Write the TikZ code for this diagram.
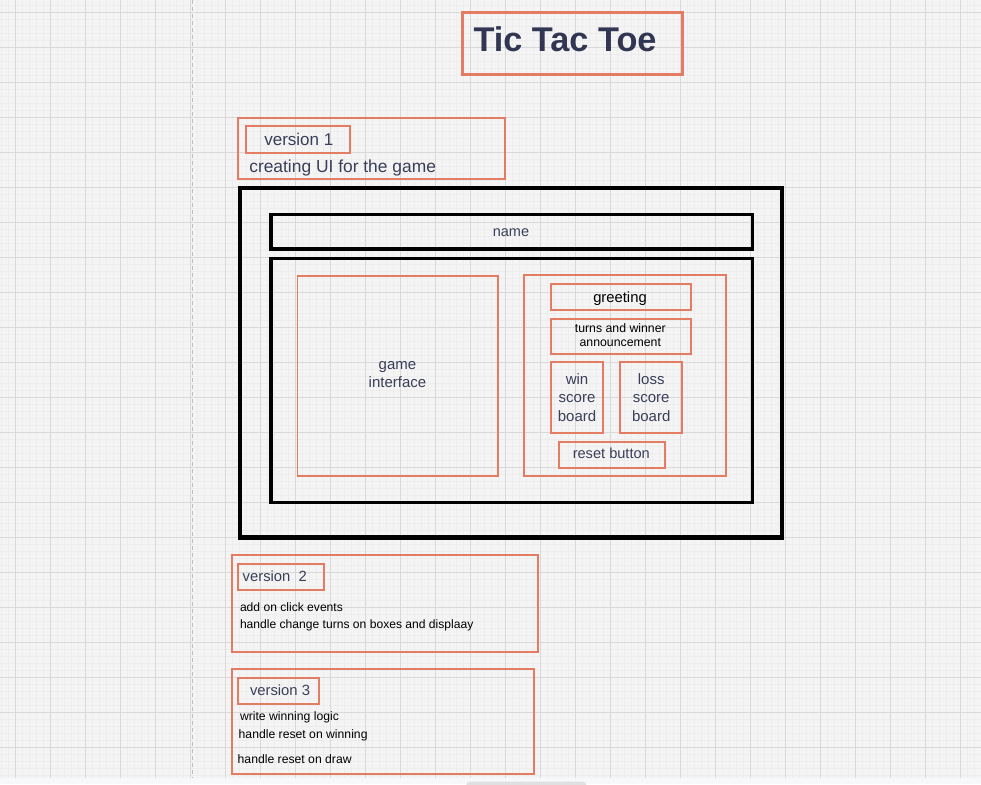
\documentclass[tikz,border=0pt]{standalone}
\usepackage{fontspec}
\setmainfont{Liberation Sans}
\definecolor{salm}{RGB}{228,124,100}
\definecolor{txt}{RGB}{58,62,88}
\definecolor{ttl}{RGB}{50,54,82}
\definecolor{bgc}{RGB}{244,244,244}
\definecolor{minorc}{RGB}{237,237,237}
\definecolor{majorc}{RGB}{217,217,217}
\definecolor{stripc}{RGB}{247,248,249}
\definecolor{barc}{RGB}{224,224,224}
\definecolor{dashc}{RGB}{190,190,190}
\tikzset{
  rbox/.style={draw=salm, line width=1.7pt, inner sep=0pt, outer sep=0pt},
  kbox/.style={draw=black, line width=3.5pt, inner sep=0pt, outer sep=0pt},
  lbl/.style={inner sep=0pt, outer sep=0pt, anchor=base, font=\fontsize{15}{18}\selectfont, text=txt},
  lline/.style={inner sep=0pt, outer sep=0pt, anchor=base west, text=black},
}
\begin{document}
\begin{tikzpicture}[x=1pt,y=-1pt]
\useasboundingbox (0,0) rectangle (981,784);
\clip (0,0) rectangle (981,784);
% background grid
\fill[bgc] (0,0) rectangle (981,777.7);
\foreach \i in {0,...,140} \draw[minorc, line width=0.8pt] (1.7+7*\i,0) -- (1.7+7*\i,777.7);
\foreach \j in {0,...,110} \draw[minorc, line width=0.8pt] (0,5.3+7*\j) -- (981,5.3+7*\j);
\foreach \i in {0,...,27} \draw[majorc, line width=1pt] (15.7+35*\i,0) -- (15.7+35*\i,777.7);
\foreach \j in {0,...,22} \draw[majorc, line width=1pt] (0,12.3+35*\j) -- (981,12.3+35*\j);
\fill[stripc] (0,777.7) rectangle (981,784);
\fill[barc, rounded corners=4pt] (466,781.7) rectangle (586.7,792);
\draw[dashc, line width=1pt, dash pattern=on 4pt off 3pt] (192.3,0) -- (192.3,777.7);

% title
\node[rbox, line width=3pt, minimum width=220pt, minimum height=61.3pt] (title) at (572.7,43.35) {};
\node[inner sep=0pt, anchor=base, text=ttl, font=\bfseries\fontsize{34.3}{40}\selectfont] (titletext) at (565,51.7) {Tic Tac Toe};

% version 1
\node[rbox, minimum width=267.3pt, minimum height=61.6pt] (v1) at (371.35,148.5) {};
\node[rbox, line width=2pt, minimum width=104.3pt, minimum height=26.7pt] (v1lab) at (297.85,139.65) {};
\node[lbl, font=\fontsize{17}{20}\selectfont] (v1text) at (298.8,145.7) {version 1};
\node[lbl, anchor=base west, font=\fontsize{17.4}{20}\selectfont] (v1desc) at (249.3,172.3) {creating UI for the game};

% UI frame
\node[kbox, line width=4.5pt, minimum width=542pt, minimum height=349.5pt] (frame) at (511,362.75) {};
\node[kbox, minimum width=481.3pt, minimum height=34.7pt] (namebox) at (511.65,231.65) {};
\node[lbl, font=\fontsize{14.5}{17}\selectfont] (nametext) at (511,236) {name};
\node[kbox, minimum width=481.3pt, minimum height=244.4pt] (inner) at (511.65,380.5) {};

\node[rbox, minimum width=200.5pt, minimum height=200pt] (game) at (397.75,376) {};
\node[lbl, align=center, anchor=center] (gametext) at (397.5,375) {game\\interface};

\node[rbox, line width=1.8pt, minimum width=202.2pt, minimum height=201pt] (panel) at (625.1,375.5) {};
\node[rbox, line width=2pt, minimum width=140.3pt, minimum height=26pt] (greet) at (620.85,297) {};
\node[lbl, text=black, font=\fontsize{14.8}{17}\selectfont] (greettext) at (620,302.3) {greeting};
\node[rbox, line width=2pt, minimum width=140.3pt, minimum height=34.7pt] (turns) at (620.85,336.35) {};
\node[lbl, text=black, font=\fontsize{12.3}{14}\selectfont] (turnstext1) at (620.3,332.7) {turns and winner};
\node[lbl, text=black, font=\fontsize{12.3}{14}\selectfont] (turnstext2) at (620.3,346.7) {announcement};
\node[rbox, line width=2pt, minimum width=52.6pt, minimum height=71pt] (win) at (577,397.8) {};
\node[lbl, align=center, anchor=center, font=\fontsize{15}{18.3}\selectfont] (wintext) at (577,397.5) {win\\score\\board};
\node[rbox, line width=2pt, minimum width=62pt, minimum height=71pt] (loss) at (651.3,397.8) {};
\node[lbl, align=center, anchor=center, font=\fontsize{15}{18.3}\selectfont] (losstext) at (651.2,397.5) {loss\\score\\board};
\node[rbox, line width=2pt, minimum width=105.7pt, minimum height=26.6pt] (reset) at (612.15,455) {};
\node[lbl, font=\fontsize{14.6}{17}\selectfont] (resettext) at (611.3,458.3) {reset button};

% version 2
\node[rbox, minimum width=306.6pt, minimum height=96.4pt] (v2) at (385,603.5) {};
\node[rbox, line width=2pt, minimum width=85.7pt, minimum height=26.3pt] (v2lab) at (280.85,577.15) {};
\node[lbl, anchor=base west, font=\fontsize{14.8}{17}\selectfont] (v2text) at (242.7,581.7) {version\ \ 2};
\node[lline, font=\fontsize{12.1}{14}\selectfont] (v2a) at (240,611.7) {add on click events};
\node[lline, font=\fontsize{12.1}{14}\selectfont] (v2b) at (240,628.5) {handle change turns on boxes and displaay};

% version 3
\node[rbox, minimum width=302.3pt, minimum height=105pt] (v3) at (382.85,721.8) {};
\node[rbox, line width=2pt, minimum width=81.3pt, minimum height=25.7pt] (v3lab) at (278.65,691.15) {};
\node[lbl, anchor=base west, font=\fontsize{14.8}{17}\selectfont] (v3text) at (250,695) {version 3};
\node[lline, font=\fontsize{12.2}{14}\selectfont] (v3a) at (240,720.7) {write winning logic};
\node[lline, font=\fontsize{12.2}{14}\selectfont] (v3b) at (238.7,738.3) {handle reset on winning};
\node[lline, font=\fontsize{12.2}{14}\selectfont] (v3c) at (237.7,763.3) {handle reset on draw};
\end{tikzpicture}
\end{document}
